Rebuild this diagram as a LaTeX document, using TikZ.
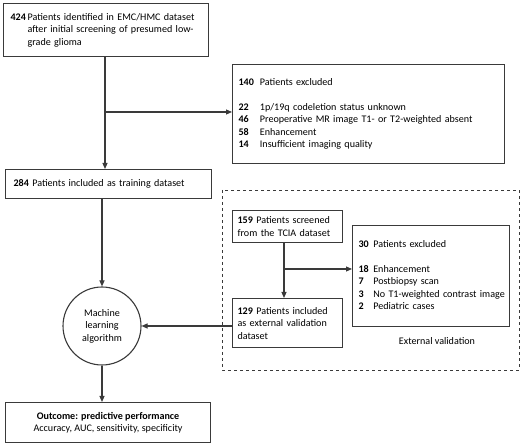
\documentclass[tikz,border=0pt]{standalone}
\usepackage{fontspec}
\setmainfont{Carlito}
\usepackage{tikz}
\usetikzlibrary{arrows.meta}
\usetikzlibrary{positioning}

\definecolor{linegray}{HTML}{3A3A3A}

\begin{document}
\begin{tikzpicture}[
        x=1pt, y=-1pt,
        font=\fontsize{10.1}{12.5}\selectfont,
        box/.style={rectangle, draw=linegray, line width=1.1pt, inner sep=0pt, anchor=north west, align=left},
        roundbox/.style={circle, draw=linegray, line width=1.1pt, minimum size=78pt, align=center, inner sep=0pt},
        arr/.style={-{Triangle[length=6pt, width=5pt]}, draw=linegray, line width=1.1pt},
        zone/.style={rectangle, draw=linegray, dashed, line width=0.8pt}
      ]
        \useasboundingbox (0,0) rectangle (520,443);

        \node[box, minimum width=205pt, minimum height=53pt, text width=191pt]  (b424)  at (3,3)
            {\begin{tabular}{@{}l@{\,}l@{}}\textbf{424} & Patients identified in EMC/HMC dataset\\ & after initial screening of presumed low-\\ & grade glioma\end{tabular}};
        \node[box, minimum width=272pt, minimum height=99pt, text width=260pt]  (b140)  at (232,64)
            {\begin{tabular}{@{}l@{\hspace{6pt}}l@{}}\textbf{140} & Patients excluded\\[12.5pt] \textbf{22} & 1p/19q codeletion status unknown\\ \textbf{46} & Preoperative MR image T1- or T2-weighted absent\\ \textbf{58} & Enhancement\\ \textbf{14} & Insufficient imaging quality\end{tabular}};
        \node[box, minimum width=206pt, minimum height=29pt, text width=190pt]  (b284)  at (5,169)
            {\textbf{284} Patients included as training dataset};

        \draw[zone] (222,190) rectangle (519,370);

        \node[box, minimum width=110pt, minimum height=32pt, text width=100pt]  (b159)  at (232,210)
            {\textbf{159} Patients screened\\from the TCIA dataset};
        \node[box, minimum width=110pt, minimum height=49pt, text width=100pt]  (b129)  at (232,298)
            {\textbf{129} Patients included\\as external validation\\dataset};
        \node[box, minimum width=157pt, minimum height=101pt, text width=145pt]  (b30)  at (352,225)
            {\begin{tabular}{@{}l@{\hspace{4.5pt}}l@{}}\textbf{30} & Patients excluded\\[12.5pt] \textbf{18} & Enhancement\\ \textbf{7} & Postbiopsy scan\\ \textbf{3} & No T1-weighted contrast image\\ \textbf{2} & Pediatric cases\end{tabular}};
        \node (extlabel) at (437,341) {External validation};

        \node[roundbox]  (ml)  at (102,326)  {Machine\\learning\\algorithm};
        \node[box, minimum width=205pt, minimum height=40pt, align=center]  (outcome)  at (5,402)
            {\textbf{Outcome: predictive performance}\\Accuracy, AUC, sensitivity, specificity};

        \coordinate (split1) at (105,112);
        \coordinate (split2) at (284,269);

        \draw[arr] (split1 |- b424.south) -- (split1 |- b284.north);
        \draw[arr] (split1) -- (split1 -| b140.west);
        \draw[arr] (b284.south -| ml.north) -- (ml.north);
        \draw[arr] (b129.west |- ml.east) -- (ml.east);
        \draw[arr] (ml.south) -- (outcome.north -| ml.south);
        \draw[arr] (split2 |- b159.south) -- (split2 |- b129.north);
        \draw[arr] (split2) -- (split2 -| b30.west);
      \end{tikzpicture}
\end{document}
